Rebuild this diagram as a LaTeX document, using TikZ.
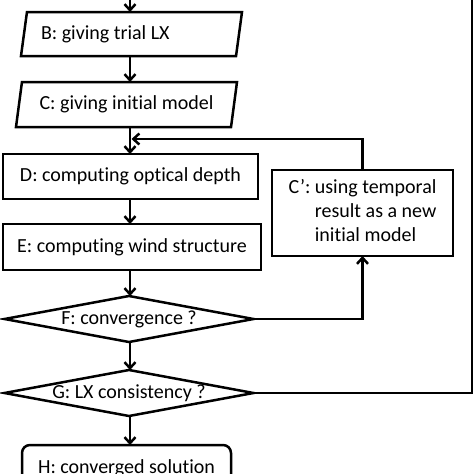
\documentclass[tikz,border=0pt]{standalone}
\usepackage{fontspec}
\setmainfont{Carlito}[Ligatures=NoCommon]
\usetikzlibrary{shapes.geometric,arrows.meta,calc}
\begin{document}
\begin{tikzpicture}[x=1pt,y=-1pt,
 every node/.style={font=\fontsize{20}{24}\selectfont, inner sep=0pt, outer sep=0pt},
 box/.style={draw, line width=2.5pt, rectangle},
 para/.style={draw, line width=2.5pt, trapezium, trapezium stretches body, trapezium left angle=71, trapezium right angle=109},
 dia/.style={draw, line width=2.5pt, diamond, minimum width=249pt, minimum height=46pt, aspect=5.4},
 arr/.style={line width=2.5pt, -{Straight Barb[length=6pt,width=11pt]}},
 ln/.style={line width=2.5pt}]
\useasboundingbox (0,0) rectangle (474,474);
\clip (0,0) rectangle (474,474);
\coordinate (s) at (130,0);
\coordinate (in) at (130,-5);
\coordinate (m) at (131.5,139);
\coordinate (rtop) at (472,-5);
\node[para, minimum width=221pt, minimum height=44pt] (B) at (131.5,34) {\makebox[181pt][l]{B: giving trial LX}};
\node[para, minimum width=221pt, minimum height=45pt] (C) at (126.5,104.5) {C: giving initial model};
\node[box, minimum width=255pt, minimum height=45pt] (D) at (130.5,176.5) {D: computing optical depth};
\node[box, minimum width=258pt, minimum height=46pt] (E) at (132,247) {E: computing wind structure};
\node[box, minimum width=181pt, minimum height=86pt] (Cp) at (362.5,213) {\begin{tabular}{@{}l@{\ }l@{}}C’:&using temporal\\ &result as a new\\ &initial model\end{tabular}};
\node[dia] (F) at (129,319) {F: convergence ?};
\node[dia] (G) at (129,393) {G: LX consistency ?};
\node[box, rounded corners=8pt, minimum width=209pt, minimum height=46pt] (H) at (126.5,468) {H: converged solution};
\draw[arr] (in) -- (s |- B.north);
\draw[arr] (s |- B.south) -- (s |- C.north);
\draw[arr] (s |- C.south) -- (s |- D.north);
\draw[arr] (s |- D.south) -- (s |- E.north);
\draw[arr] (s |- E.south) -- (s |- F.north);
\draw[arr] (s |- F.south) -- (s |- G.north);
\draw[arr] (s |- G.south) -- (s |- H.north);
\draw[arr] (F.east) -| (Cp.south);
\draw[arr] (Cp.north) |- (m);
\draw[ln] (G.east) -| (rtop);
\end{tikzpicture}
\end{document}
